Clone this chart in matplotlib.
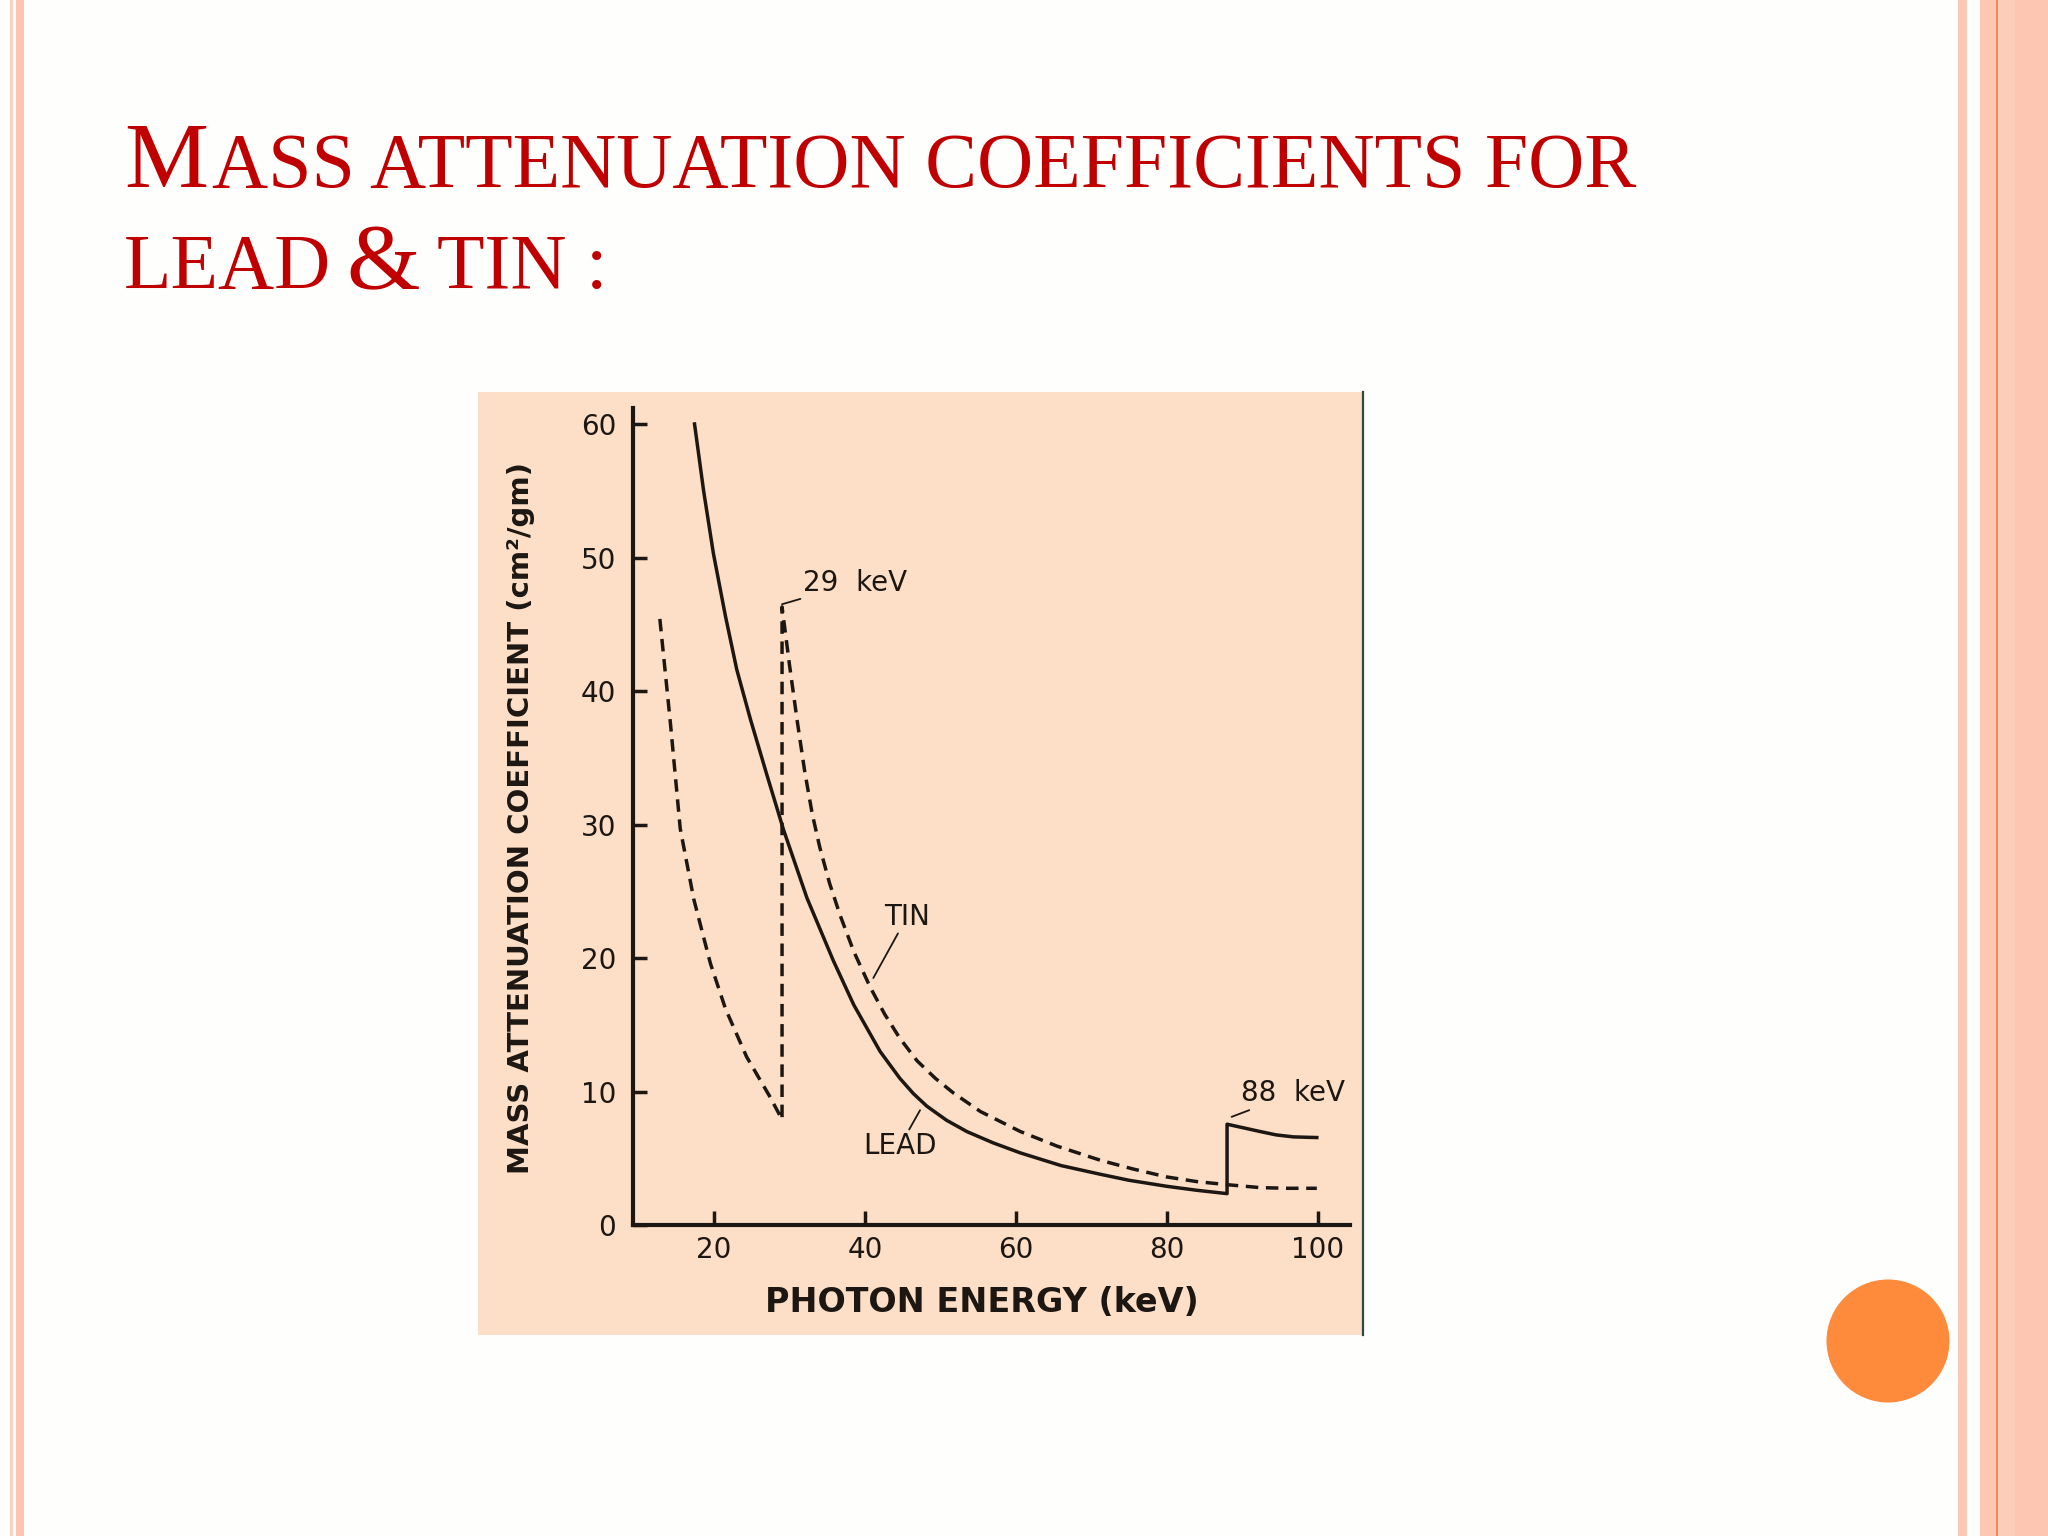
import matplotlib.pyplot as plt
from matplotlib.patches import Rectangle, Circle

# values (photon energy in keV, mass attenuation coefficient in cm2/gm)
lead_energy = [17.4, 18.6, 19.9, 21.5, 23.0, 24.8, 27.0, 29.2, 32.3, 35.8, 38.5, 42.0,
               44.6, 46.4, 48.2, 50.8, 53.5, 57.0, 60.6, 66.0, 71.2, 75.0, 80.0, 84.0, 88.0,
               88.0, 90.0, 92.4, 94.5, 96.8, 99.9]
lead_coef = [60.0, 55.0, 50.3, 45.6, 41.6, 37.9, 33.7, 29.6, 24.5, 19.8, 16.5, 13.0,
             11.0, 9.85, 8.9, 7.85, 7.0, 6.15, 5.4, 4.45, 3.8, 3.35, 2.9, 2.6, 2.35,
             7.55, 7.3, 7.0, 6.75, 6.6, 6.55]

tin_energy = [12.8, 14.2, 15.5, 17.3, 19.5, 21.5, 24.3, 27.4, 29.0,
              29.0, 30.0, 31.0, 32.0, 33.0, 34.0, 35.3, 36.7, 38.5, 40.7, 42.6, 44.6,
              46.9, 49.3, 51.7, 55.3, 60.6, 65.5, 71.2, 75.5, 80.0, 84.0, 88.4, 92.4,
              96.0, 99.9]
tin_coef = [45.4, 37.6, 29.7, 24.4, 19.6, 16.2, 12.6, 9.6, 7.9,
            46.3, 41.9, 37.8, 34.0, 30.8, 28.3, 25.6, 23.2, 20.5, 17.8, 15.8, 14.0,
            12.3, 11.0, 9.9, 8.5, 7.0, 5.9, 4.85, 4.2, 3.6, 3.25, 3.0, 2.8,
            2.75, 2.75]

x_ticks = [20, 40, 60, 80, 100]
y_ticks = [0, 10, 20, 30, 40, 50, 60]

title_red = '#C00000'
ink = '#1c1712'

fig = plt.figure(figsize=(20.48, 15.36), dpi=100)
fig.patch.set_facecolor('#FEFEFD')

# slide background layer in pixel coordinates
bg = fig.add_axes([0, 0, 1, 1])
bg.set_xlim(0, 2048)
bg.set_ylim(1536, 0)
bg.axis('off')

# left border stripes
bg.add_patch(Rectangle((9.5, 0), 3.8, 1536, color='#F9D2C5', lw=0))
bg.add_patch(Rectangle((15.5, 0), 8, 1536, color='#FDC5B0', lw=0))
# right border stripes
bg.add_patch(Rectangle((1958, 0), 9, 1536, color='#FDC9B5', lw=0))
bg.add_patch(Rectangle((1980, 0), 16, 1536, color='#FDC7B3', lw=0))
bg.add_patch(Rectangle((1996, 0), 2, 1536, color='#EE8A55', lw=0))
bg.add_patch(Rectangle((1998, 0), 17, 1536, color='#FCCDB9', lw=0))
bg.add_patch(Rectangle((2015, 0), 33, 1536, color='#FDC6B2', lw=0))

# orange dot
bg.add_patch(Circle((1888, 1341), 61.5, color='#FE8A3C', lw=0))

# peach picture frame behind the chart
bg.add_patch(Rectangle((478, 392), 885, 943, color='#FDDEC6', lw=0))
bg.plot([1363, 1363], [392, 1335], color='#2E4A3A', lw=1.6)

# title in small caps
serif = 'Liberation Serif'
big = 68
small = 56
bg.text(124, 187, 'M', fontsize=big, family=serif, color=title_red, va='baseline')
bg.text(212, 187, 'ASS ATTENUATION COEFFICIENTS FOR', fontsize=small, family=serif,
        color=title_red, va='baseline')
bg.text(124, 288, 'LEAD', fontsize=small, family=serif, color=title_red, va='baseline')
bg.text(346, 288, '&', fontsize=big, family=serif, color=title_red, va='baseline')
bg.text(437, 288, 'TIN :', fontsize=small, family=serif, color=title_red, va='baseline')

# the chart
ax = fig.add_axes([632.7 / 2048, 1 - 1225 / 1536, (1350 - 632.7) / 2048, (1225 - 408) / 1536])
ax.set_facecolor('none')

ax.plot(lead_energy, lead_coef, color=ink, lw=2.5, solid_joinstyle='round')
ax.plot(tin_energy, tin_coef, color=ink, lw=2.5, dashes=(3.6, 2.2))

ax.set_xlim(9.2, 104.3)
ax.set_ylim(0, 61.2)
ax.spines['top'].set_visible(False)
ax.spines['right'].set_visible(False)
for s in ['left', 'bottom']:
    ax.spines[s].set_linewidth(3)
    ax.spines[s].set_color(ink)

ax.set_xticks(x_ticks)
ax.set_yticks(y_ticks)
ax.tick_params(direction='in', length=10, width=2.5, color=ink, labelsize=20,
               labelcolor=ink)
ax.tick_params(axis='y', pad=12)
ax.tick_params(axis='x', pad=8)

ax.set_xlabel('PHOTON ENERGY (keV)', fontsize=24, fontweight='bold', color=ink)
ax.xaxis.set_label_coords(0.487, -0.075)
ax.set_ylabel('MASS ATTENUATION COEFFICIENT (cm²/gm)', fontsize=21, fontweight='bold',
              color=ink)
ax.yaxis.set_label_coords(-0.136, 0.498)

# curve labels with leader lines
lead_props = dict(arrowstyle='-', color=ink, lw=1.3, shrinkA=0, shrinkB=0)
ax.annotate('29  keV', xy=(29.0, 46.5), xytext=(31.8, 48.1), fontsize=20, color=ink,
            ha='left', va='center', arrowprops=lead_props)
ax.annotate('TIN', xy=(41.1, 18.5), xytext=(45.6, 23.1), fontsize=20, color=ink,
            ha='center', va='center', arrowprops=lead_props)
ax.annotate('LEAD', xy=(47.3, 8.6), xytext=(44.6, 5.9), fontsize=20, color=ink,
            ha='center', va='center', arrowprops=lead_props)
ax.annotate('88  keV', xy=(88.6, 8.1), xytext=(89.9, 9.86), fontsize=20, color=ink,
            ha='left', va='center', arrowprops=lead_props)

plt.savefig('out.png', dpi=100, facecolor=fig.get_facecolor())
